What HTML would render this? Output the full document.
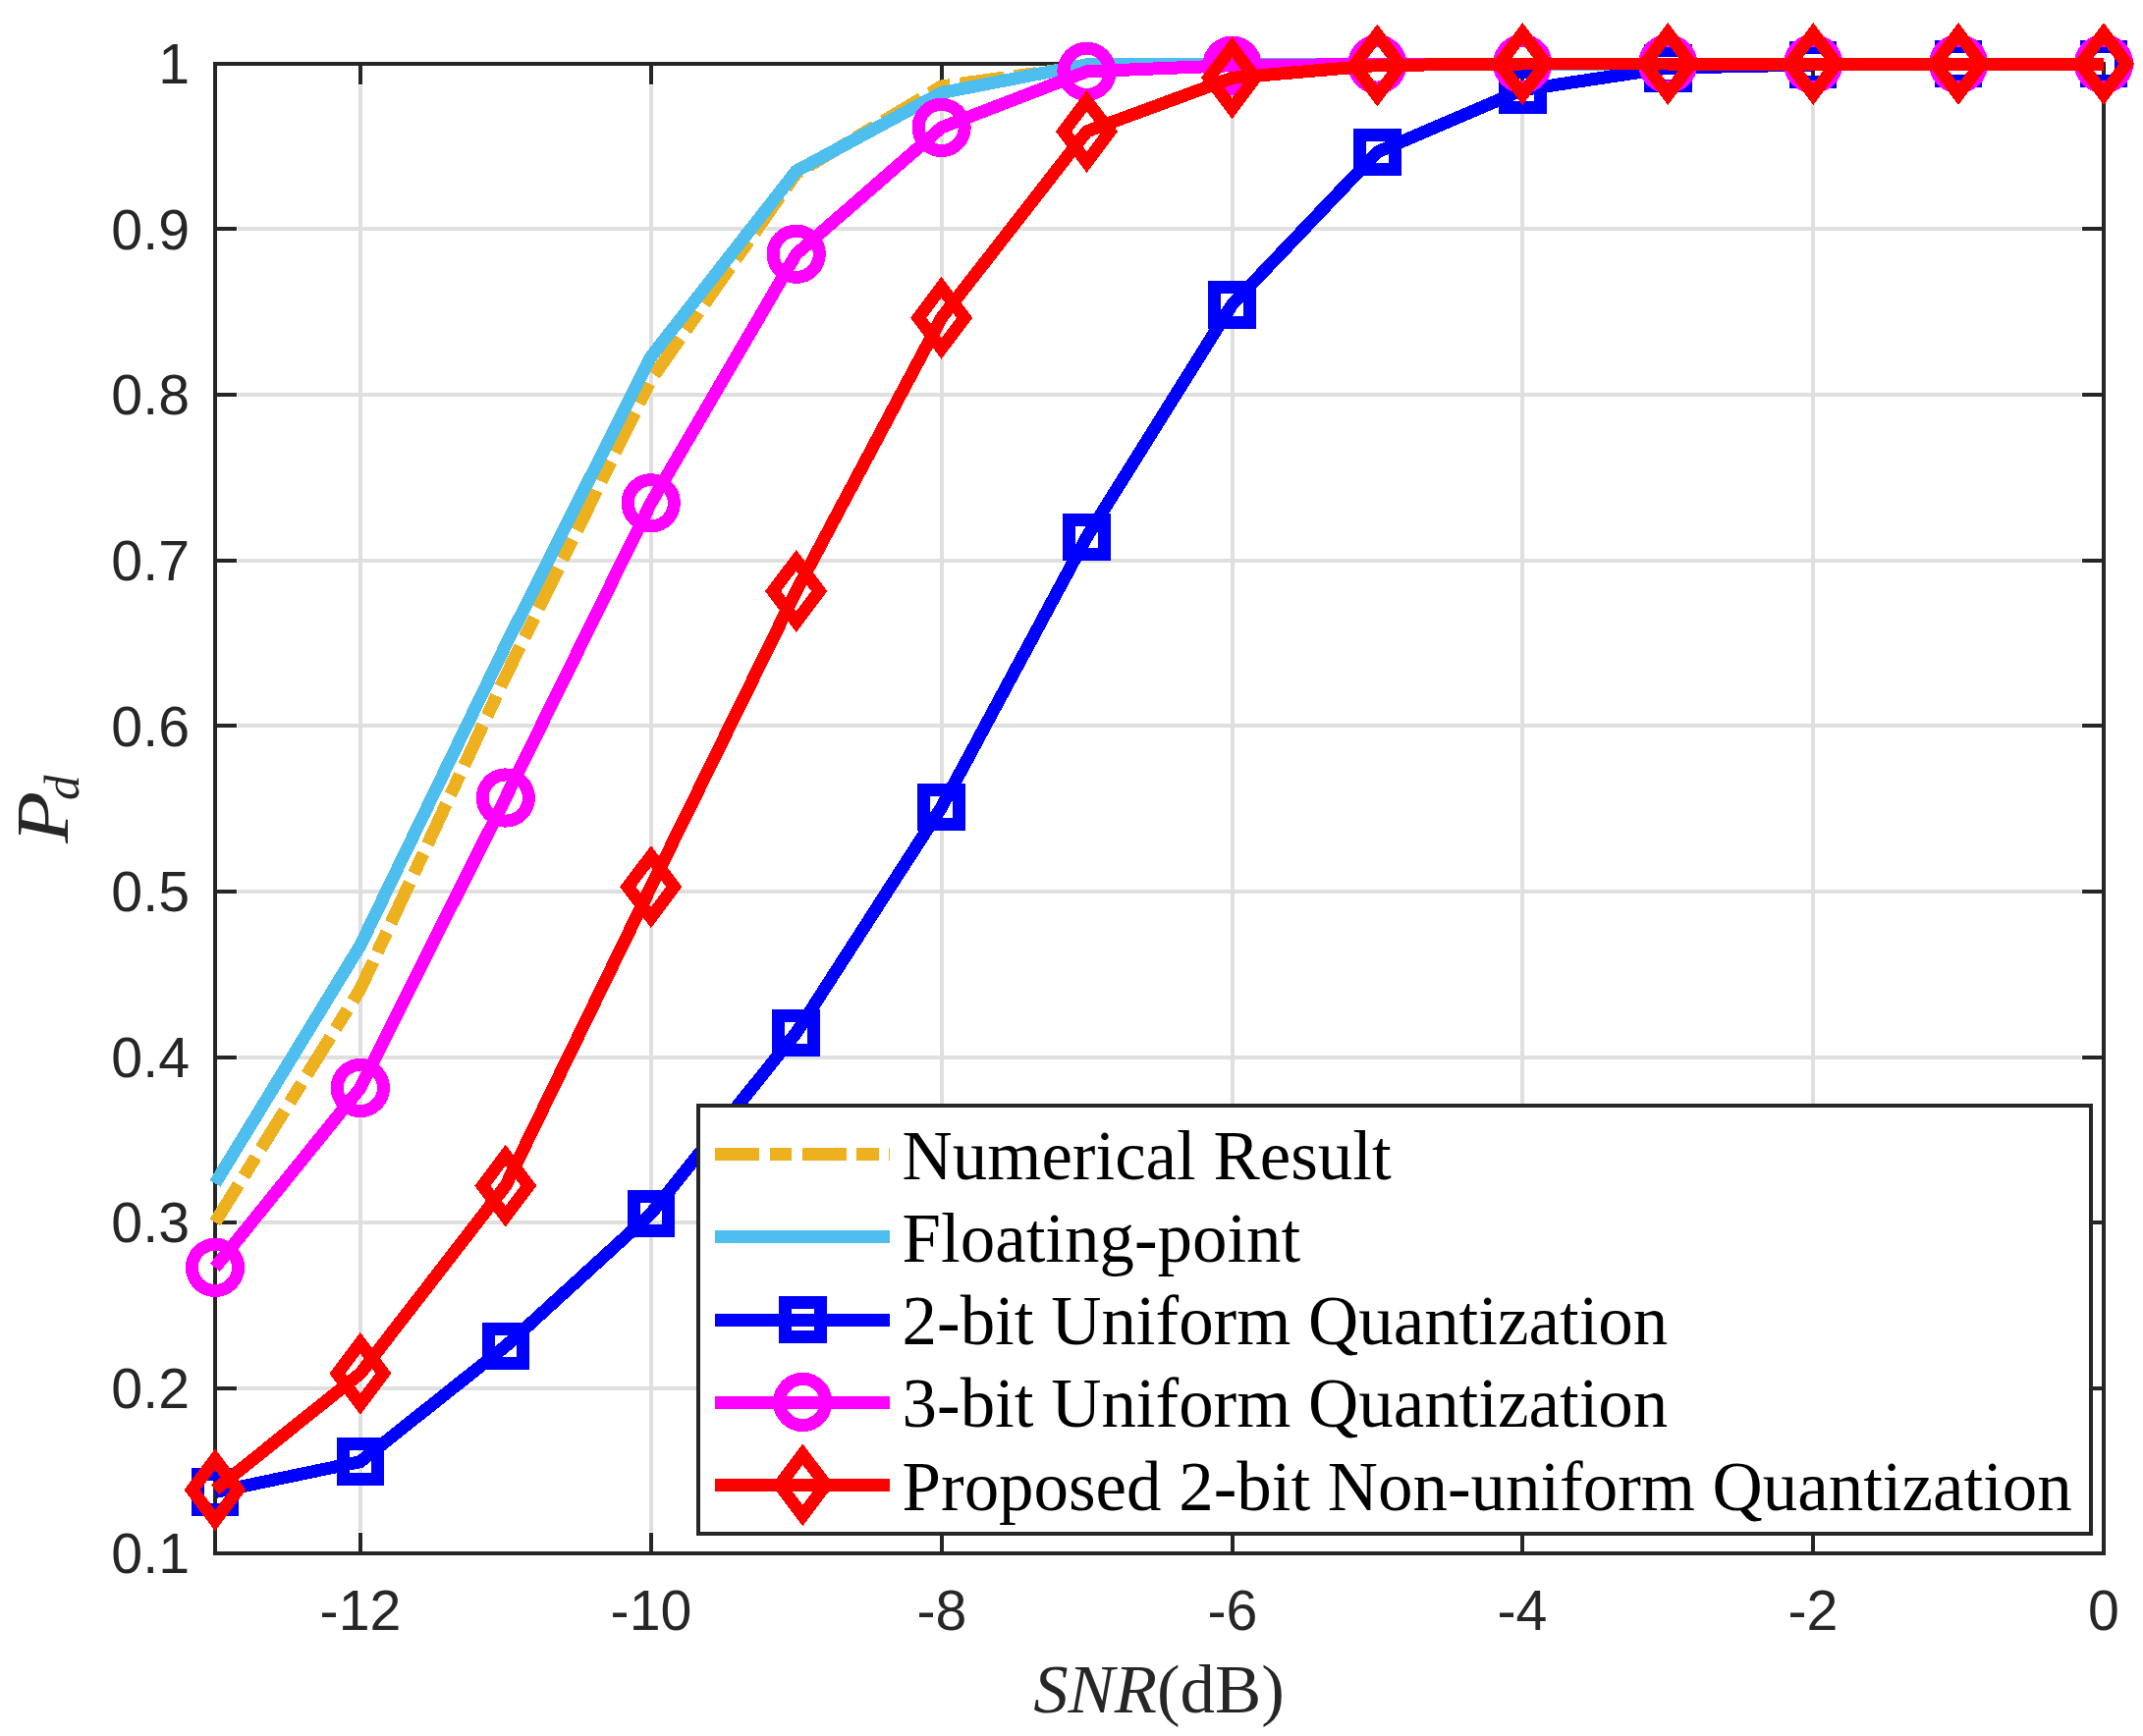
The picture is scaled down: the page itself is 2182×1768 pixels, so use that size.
<!DOCTYPE html><html><head><meta charset="utf-8"><title>Pd vs SNR</title>
<style>html,body{margin:0;padding:0;background:#fff}svg{display:block}.t{font-family:"Liberation Sans",sans-serif;font-size:57.3px;fill:#262626}.l{font-family:"Liberation Serif",serif;font-size:70.9px;fill:#000}.s{font-family:"Liberation Serif",serif;fill:#262626}</style></head><body>
<svg width="2182" height="1768" viewBox="0 0 2182 1768">
<rect width="2182" height="1768" fill="#fff"/>
<path d="M367.0 87.0V1560.0M663.0 87.0V1560.0M959.0 87.0V1560.0M1255.0 87.0V1560.0M1550.0 87.0V1560.0M1846.0 87.0V1560.0M242.0 1414.0H2119.0M242.0 1245.0H2119.0M242.0 1077.0H2119.0M242.0 908.0H2119.0M242.0 739.0H2119.0M242.0 571.0H2119.0M242.0 402.0H2119.0M242.0 233.0H2119.0" stroke="#dfdfdf" stroke-width="4" fill="none" shape-rendering="crispEdges"/>
<path d="M367.0 1582.0V1561.0M367.0 65.0V86.0M663.0 1582.0V1561.0M663.0 65.0V86.0M959.0 1582.0V1561.0M959.0 65.0V86.0M1255.0 1582.0V1561.0M1255.0 65.0V86.0M1550.0 1582.0V1561.0M1550.0 65.0V86.0M1846.0 1582.0V1561.0M1846.0 65.0V86.0M219.0 1414.0H241.0M2142.0 1414.0H2120.0M219.0 1245.0H241.0M2142.0 1245.0H2120.0M219.0 1077.0H241.0M2142.0 1077.0H2120.0M219.0 908.0H241.0M2142.0 908.0H2120.0M219.0 739.0H241.0M2142.0 739.0H2120.0M219.0 571.0H241.0M2142.0 571.0H2120.0M219.0 402.0H241.0M2142.0 402.0H2120.0M219.0 233.0H241.0M2142.0 233.0H2120.0" stroke="#262626" stroke-width="4" fill="none" shape-rendering="crispEdges"/>
<rect x="219.0" y="65.0" width="1923.0" height="1517.0" stroke="#262626" stroke-width="4" fill="none" shape-rendering="crispEdges"/>
<text class="t" x="367.0" y="1660" text-anchor="middle">-12</text>
<text class="t" x="663.0" y="1660" text-anchor="middle">-10</text>
<text class="t" x="959.0" y="1660" text-anchor="middle">-8</text>
<text class="t" x="1255.0" y="1660" text-anchor="middle">-6</text>
<text class="t" x="1550.0" y="1660" text-anchor="middle">-4</text>
<text class="t" x="1846.0" y="1660" text-anchor="middle">-2</text>
<text class="t" x="2142.0" y="1660" text-anchor="middle">0</text>
<text class="t" x="193" y="1602.3" text-anchor="end">0.1</text>
<text class="t" x="193" y="1433.7" text-anchor="end">0.2</text>
<text class="t" x="193" y="1265.2" text-anchor="end">0.3</text>
<text class="t" x="193" y="1096.6" text-anchor="end">0.4</text>
<text class="t" x="193" y="928.1" text-anchor="end">0.5</text>
<text class="t" x="193" y="759.5" text-anchor="end">0.6</text>
<text class="t" x="193" y="591.0" text-anchor="end">0.7</text>
<text class="t" x="193" y="422.4" text-anchor="end">0.8</text>
<text class="t" x="193" y="253.9" text-anchor="end">0.9</text>
<text class="t" x="193" y="85.3" text-anchor="end">1</text>
<text class="s" x="1180" y="1743.5" text-anchor="middle" font-size="70.8"><tspan font-style="italic">SNR</tspan>(dB)</text>
<text class="s" transform="translate(68.7,858.7) rotate(-90) scale(1.14,1)" font-style="italic" font-size="76">P</text>
<text class="s" transform="translate(80.2,814.9) rotate(-90)" font-style="italic" font-size="51">d</text>
<g shape-rendering="crispEdges" stroke-linejoin="round" fill="none">
<polyline points="219.0,1244.9 366.9,1007.2 514.8,688.7 662.8,386.9 810.7,176.8 958.6,87.9 1106.5,67.5 1254.5,65.0 1402.4,65.0 1550.3,65.0 1698.2,65.0 1846.2,65.0 1994.1,65.0 2142.0,65.0" stroke="#edb120" stroke-width="13" stroke-dasharray="45.3 10.3 22.6 10.3"/>
<polyline points="219.0,1205.3 366.9,962.7 514.8,657.3 662.8,363.3 810.7,174.2 958.6,94.5 1106.5,65.8 1254.5,65.0 1402.4,65.0 1550.3,65.0 1698.2,65.0 1846.2,65.0 1994.1,65.0 2142.0,65.0" stroke="#4dbeee" stroke-width="13"/>
<polyline points="219.0,1519.6 366.9,1488.6 514.8,1371.0 662.8,1236.0 810.7,1051.9 958.6,822.2 1106.5,546.9 1254.5,310.2 1402.4,154.8 1550.3,91.5 1698.2,69.2 1846.2,66.0 1994.1,65.0 2142.0,65.0" stroke="#0000ff" stroke-width="13"/>
<g stroke-linejoin="miter"><rect x="201.2" y="1501.9" width="35.5" height="35.5" fill="none" stroke="#0000ff" stroke-width="13"/><rect x="349.2" y="1470.9" width="35.5" height="35.5" fill="none" stroke="#0000ff" stroke-width="13"/><rect x="497.1" y="1353.2" width="35.5" height="35.5" fill="none" stroke="#0000ff" stroke-width="13"/><rect x="645.0" y="1218.2" width="35.5" height="35.5" fill="none" stroke="#0000ff" stroke-width="13"/><rect x="792.9" y="1034.1" width="35.5" height="35.5" fill="none" stroke="#0000ff" stroke-width="13"/><rect x="940.9" y="804.4" width="35.5" height="35.5" fill="none" stroke="#0000ff" stroke-width="13"/><rect x="1088.8" y="529.2" width="35.5" height="35.5" fill="none" stroke="#0000ff" stroke-width="13"/><rect x="1236.7" y="292.5" width="35.5" height="35.5" fill="none" stroke="#0000ff" stroke-width="13"/><rect x="1384.6" y="137.1" width="35.5" height="35.5" fill="none" stroke="#0000ff" stroke-width="13"/><rect x="1532.6" y="73.7" width="35.5" height="35.5" fill="none" stroke="#0000ff" stroke-width="13"/><rect x="1680.5" y="51.5" width="35.5" height="35.5" fill="none" stroke="#0000ff" stroke-width="13"/><rect x="1828.4" y="48.3" width="35.5" height="35.5" fill="none" stroke="#0000ff" stroke-width="13"/><rect x="1976.3" y="47.2" width="35.5" height="35.5" fill="none" stroke="#0000ff" stroke-width="13"/><rect x="2124.2" y="47.2" width="35.5" height="35.5" fill="none" stroke="#0000ff" stroke-width="13"/></g>
<polyline points="219.0,1290.9 366.9,1108.0 514.8,812.5 662.8,512.3 810.7,258.8 958.6,129.9 1106.5,72.8 1254.5,66.7 1402.4,65.5 1550.3,65.0 1698.2,65.0 1846.2,65.0 1994.1,65.0 2142.0,65.0" stroke="#ff00ff" stroke-width="13"/>
<g stroke-linejoin="miter"><circle cx="219.0" cy="1290.9" r="23.60" fill="none" stroke="#ff00ff" stroke-width="13"/><circle cx="366.9" cy="1108.0" r="23.60" fill="none" stroke="#ff00ff" stroke-width="13"/><circle cx="514.8" cy="812.5" r="23.60" fill="none" stroke="#ff00ff" stroke-width="13"/><circle cx="662.8" cy="512.3" r="23.60" fill="none" stroke="#ff00ff" stroke-width="13"/><circle cx="810.7" cy="258.8" r="23.60" fill="none" stroke="#ff00ff" stroke-width="13"/><circle cx="958.6" cy="129.9" r="23.60" fill="none" stroke="#ff00ff" stroke-width="13"/><circle cx="1106.5" cy="72.8" r="23.60" fill="none" stroke="#ff00ff" stroke-width="13"/><circle cx="1254.5" cy="66.7" r="23.60" fill="none" stroke="#ff00ff" stroke-width="13"/><circle cx="1402.4" cy="65.5" r="23.60" fill="none" stroke="#ff00ff" stroke-width="13"/><circle cx="1550.3" cy="65.0" r="23.60" fill="none" stroke="#ff00ff" stroke-width="13"/><circle cx="1698.2" cy="65.0" r="23.60" fill="none" stroke="#ff00ff" stroke-width="13"/><circle cx="1846.2" cy="65.0" r="23.60" fill="none" stroke="#ff00ff" stroke-width="13"/><circle cx="1994.1" cy="65.0" r="23.60" fill="none" stroke="#ff00ff" stroke-width="13"/><circle cx="2142.0" cy="65.0" r="23.60" fill="none" stroke="#ff00ff" stroke-width="13"/></g>
<polyline points="219.0,1517.3 366.9,1398.8 514.8,1207.6 662.8,903.2 810.7,602.0 958.6,323.7 1106.5,133.9 1254.5,79.3 1402.4,66.5 1550.3,65.0 1698.2,65.0 1846.2,65.0 1994.1,65.0 2142.0,65.0" stroke="#ff0000" stroke-width="13"/>
<g stroke-linejoin="miter"><path d="M219.0 1486.1L242.4 1517.3L219.0 1548.5L195.6 1517.3Z" fill="none" stroke="#ff0000" stroke-width="13" stroke-miterlimit="10"/><path d="M366.9 1367.6L390.4 1398.8L366.9 1430.0L343.5 1398.8Z" fill="none" stroke="#ff0000" stroke-width="13" stroke-miterlimit="10"/><path d="M514.8 1176.4L538.3 1207.6L514.8 1238.8L491.4 1207.6Z" fill="none" stroke="#ff0000" stroke-width="13" stroke-miterlimit="10"/><path d="M662.8 872.0L686.2 903.2L662.8 934.4L639.3 903.2Z" fill="none" stroke="#ff0000" stroke-width="13" stroke-miterlimit="10"/><path d="M810.7 570.8L834.1 602.0L810.7 633.2L787.2 602.0Z" fill="none" stroke="#ff0000" stroke-width="13" stroke-miterlimit="10"/><path d="M958.6 292.5L982.1 323.7L958.6 354.9L935.2 323.7Z" fill="none" stroke="#ff0000" stroke-width="13" stroke-miterlimit="10"/><path d="M1106.5 102.7L1130.0 133.9L1106.5 165.1L1083.1 133.9Z" fill="none" stroke="#ff0000" stroke-width="13" stroke-miterlimit="10"/><path d="M1254.5 48.1L1277.9 79.3L1254.5 110.5L1231.0 79.3Z" fill="none" stroke="#ff0000" stroke-width="13" stroke-miterlimit="10"/><path d="M1402.4 35.3L1425.8 66.5L1402.4 97.7L1378.9 66.5Z" fill="none" stroke="#ff0000" stroke-width="13" stroke-miterlimit="10"/><path d="M1550.3 33.8L1573.8 65.0L1550.3 96.2L1526.9 65.0Z" fill="none" stroke="#ff0000" stroke-width="13" stroke-miterlimit="10"/><path d="M1698.2 33.8L1721.7 65.0L1698.2 96.2L1674.8 65.0Z" fill="none" stroke="#ff0000" stroke-width="13" stroke-miterlimit="10"/><path d="M1846.2 33.8L1869.6 65.0L1846.2 96.2L1822.7 65.0Z" fill="none" stroke="#ff0000" stroke-width="13" stroke-miterlimit="10"/><path d="M1994.1 33.8L2017.5 65.0L1994.1 96.2L1970.6 65.0Z" fill="none" stroke="#ff0000" stroke-width="13" stroke-miterlimit="10"/><path d="M2142.0 33.8L2165.4 65.0L2142.0 96.2L2118.6 65.0Z" fill="none" stroke="#ff0000" stroke-width="13" stroke-miterlimit="10"/></g>
</g>
<rect x="711" y="1126" width="1418" height="436" fill="#fff" stroke="#262626" stroke-width="4" shape-rendering="crispEdges"/>
<g shape-rendering="crispEdges" fill="none">
<path d="M728 1175.3H906" stroke="#edb120" stroke-width="13" stroke-dasharray="45.3 10.3 22.6 10.3"/>
<path d="M728 1259.5H906" stroke="#4dbeee" stroke-width="13"/>
<path d="M728 1344.0H906" stroke="#0000ff" stroke-width="13"/>
<rect x="799.5" y="1326.2" width="35.5" height="35.5" fill="none" stroke="#0000ff" stroke-width="13"/>
<path d="M728 1428.0H906" stroke="#ff00ff" stroke-width="13"/>
<circle cx="817.3" cy="1428.0" r="23.60" fill="none" stroke="#ff00ff" stroke-width="13"/>
<path d="M728 1512.3H906" stroke="#ff0000" stroke-width="13"/>
<path d="M817.3 1481.1L840.8 1512.3L817.3 1543.5L793.8 1512.3Z" fill="none" stroke="#ff0000" stroke-width="13" stroke-miterlimit="10"/>
</g>
<text class="l" x="918.6" y="1200.7">Numerical Result</text>
<text class="l" x="918.6" y="1284.9">Floating-point</text>
<text class="l" x="918.6" y="1369.4">2-bit Uniform Quantization</text>
<text class="l" x="918.6" y="1453.4">3-bit Uniform Quantization</text>
<text class="l" x="918.6" y="1537.7">Proposed 2-bit Non-uniform Quantization</text>
</svg></body></html>
